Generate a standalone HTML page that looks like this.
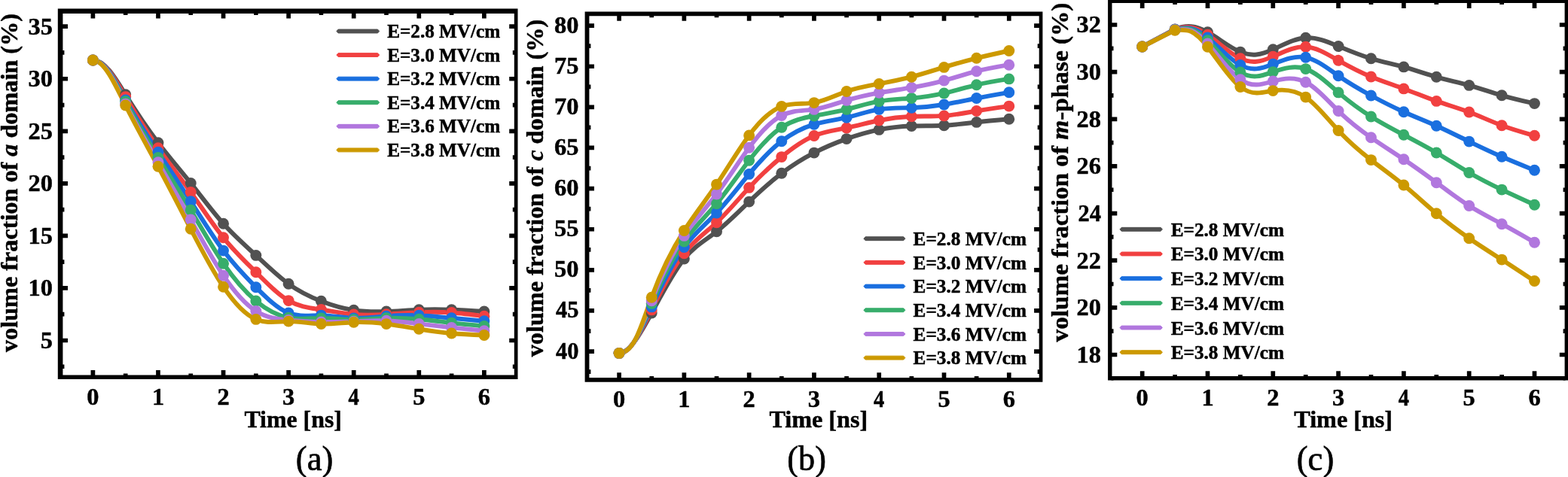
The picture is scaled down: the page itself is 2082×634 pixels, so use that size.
<!DOCTYPE html>
<html lang="en">
<head>
<meta charset="utf-8">
<title>Volume fraction versus time</title>
<style>
html,body{margin:0;padding:0;background:#fff;}
body{width:2082px;height:634px;overflow:hidden;}
svg{display:block;font-family:'Liberation Serif', 'Times New Roman', Times, serif;fill:#000;}
text{stroke:#000;stroke-width:0.5px;stroke-linejoin:round;}
</style>
</head>
<body>
<svg width="2082" height="634" viewBox="0 0 2082 634">
<rect width="2082" height="634" fill="#fff"/>
<g style="filter:blur(0.4px)">
<path d="M76.8 11.6H83.4V504.1H76.8ZM682.8 11.6H687.5V504.1H682.8ZM76.8 11.6H687.5V17.9H76.8ZM76.8 498.5H687.5V504.1H76.8ZM120.55 491.9H126.25V499.5H120.55ZM120.55 16.9H126.25V24.5H120.55ZM163.84 496.5H169.54V499.5H163.84ZM163.84 16.9H169.54V19.9H163.84ZM207.13 491.9H212.83V499.5H207.13ZM207.13 16.9H212.83V24.5H207.13ZM250.42 496.5H256.12V499.5H250.42ZM250.42 16.9H256.12V19.9H250.42ZM293.71 491.9H299.41V499.5H293.71ZM293.71 16.9H299.41V24.5H293.71ZM337 496.5H342.7V499.5H337ZM337 16.9H342.7V19.9H337ZM380.29 491.9H385.99V499.5H380.29ZM380.29 16.9H385.99V24.5H380.29ZM423.58 496.5H429.28V499.5H423.58ZM423.58 16.9H429.28V19.9H423.58ZM466.87 491.9H472.57V499.5H466.87ZM466.87 16.9H472.57V24.5H466.87ZM510.16 496.5H515.86V499.5H510.16ZM510.16 16.9H515.86V19.9H510.16ZM553.45 491.9H559.15V499.5H553.45ZM553.45 16.9H559.15V24.5H553.45ZM596.74 496.5H602.44V499.5H596.74ZM596.74 16.9H602.44V19.9H596.74ZM640.03 491.9H645.73V499.5H640.03ZM640.03 16.9H645.73V24.5H640.03ZM82.4 484.42H85.4V490.12H82.4ZM680.8 484.42H683.8V490.12H680.8ZM82.4 449.65H90V455.35H82.4ZM676.2 449.65H683.8V455.35H676.2ZM82.4 414.87H85.4V420.57H82.4ZM680.8 414.87H683.8V420.57H680.8ZM82.4 380.1H90V385.8H82.4ZM676.2 380.1H683.8V385.8H676.2ZM82.4 345.32H85.4V351.03H82.4ZM680.8 345.32H683.8V351.03H680.8ZM82.4 310.55H90V316.25H82.4ZM676.2 310.55H683.8V316.25H676.2ZM82.4 275.77H85.4V281.48H82.4ZM680.8 275.77H683.8V281.48H680.8ZM82.4 241H90V246.7H82.4ZM676.2 241H683.8V246.7H676.2ZM82.4 206.22H85.4V211.92H82.4ZM680.8 206.22H683.8V211.92H680.8ZM82.4 171.45H90V177.15H82.4ZM676.2 171.45H683.8V177.15H676.2ZM82.4 136.68H85.4V142.38H82.4ZM680.8 136.68H683.8V142.38H680.8ZM82.4 101.9H90V107.6H82.4ZM676.2 101.9H683.8V107.6H676.2ZM82.4 67.12H85.4V72.82H82.4ZM680.8 67.12H683.8V72.82H680.8ZM82.4 32.35H90V38.05H82.4ZM676.2 32.35H683.8V38.05H676.2Z" fill="#000"/>
<text x="123.4" y="538.2" font-size="32.4" font-weight="bold" text-anchor="middle">0</text>
<text x="209.98" y="538.2" font-size="32.4" font-weight="bold" text-anchor="middle">1</text>
<text x="296.56" y="538.2" font-size="32.4" font-weight="bold" text-anchor="middle">2</text>
<text x="383.14" y="538.2" font-size="32.4" font-weight="bold" text-anchor="middle">3</text>
<text x="469.72" y="538.2" font-size="32.4" font-weight="bold" text-anchor="middle" textLength="14.26" lengthAdjust="spacingAndGlyphs">4</text>
<text x="556.3" y="538.2" font-size="32.4" font-weight="bold" text-anchor="middle">5</text>
<text x="642.88" y="538.2" font-size="32.4" font-weight="bold" text-anchor="middle">6</text>
<text x="69.9" y="462.9" font-size="32.4" font-weight="bold" text-anchor="end">5</text>
<text x="69.9" y="393.35" font-size="32.4" font-weight="bold" text-anchor="end">10</text>
<text x="69.9" y="323.8" font-size="32.4" font-weight="bold" text-anchor="end">15</text>
<text x="69.9" y="254.25" font-size="32.4" font-weight="bold" text-anchor="end">20</text>
<text x="69.9" y="184.7" font-size="32.4" font-weight="bold" text-anchor="end">25</text>
<text x="69.9" y="115.15" font-size="32.4" font-weight="bold" text-anchor="end">30</text>
<text x="69.9" y="45.6" font-size="32.4" font-weight="bold" text-anchor="end">35</text>
<text x="389.2" y="568" font-size="32.5" font-weight="bold" text-anchor="middle" textLength="129.5" lengthAdjust="spacingAndGlyphs">Time [ns]</text>
<text transform="translate(23 243) rotate(-90)" font-size="32.5" font-weight="bold" text-anchor="middle" textLength="450" lengthAdjust="spacingAndGlyphs">volume fraction of <tspan font-style="italic">a</tspan> domain (%)</text>
<text x="417.6" y="624.5" font-size="47" font-weight="normal" text-anchor="middle" textLength="49.5" lengthAdjust="spacingAndGlyphs" style="stroke-width:0.7px">(a)</text>
<path d="M123.4 80C130.62 80 137.83 84.96 145.05 93.5C152.26 102.04 159.47 114.14 166.69 125.8C181.12 149.12 195.55 170.66 209.98 189.7C224.41 208.74 238.84 225.3 253.27 243.4C267.7 261.5 282.13 281.16 296.56 297.3C310.99 313.44 325.42 326.05 339.85 339.4C354.28 352.75 368.71 366.83 383.14 377.3C397.57 387.77 412 394.64 426.43 400.2C440.86 405.76 455.29 410.01 469.72 412.2C484.15 414.39 498.58 414.53 513.01 414C527.44 413.47 541.87 412.26 556.3 411.7C570.73 411.14 585.16 411.21 599.59 411.7C614.02 412.19 628.45 413.09 642.88 414" fill="none" stroke="#515151" stroke-width="5.9" stroke-linejoin="round" stroke-linecap="round"/>
<path d="M123.4 80C130.62 80 137.83 85.48 145.05 94.56C152.26 103.64 159.47 116.31 166.69 128.6C181.12 153.19 195.55 176.28 209.98 196.8C224.41 217.32 238.84 235.27 253.27 255.4C267.7 275.53 282.13 297.83 296.56 315.8C310.99 333.77 325.42 347.41 339.85 361.8C354.28 376.19 368.71 391.32 383.14 399.6C397.57 407.88 412 409.3 426.43 411.5C440.86 413.7 455.29 416.67 469.72 417.9C484.15 419.13 498.58 418.63 513.01 417.8C527.44 416.97 541.87 415.8 556.3 415.2C570.73 414.6 585.16 414.56 599.59 415.5C614.02 416.44 628.45 418.37 642.88 420.3" fill="none" stroke="#F14040" stroke-width="5.9" stroke-linejoin="round" stroke-linecap="round"/>
<path d="M123.4 80C130.62 80 137.83 85.67 145.05 95.62C152.26 105.57 159.47 119.8 166.69 132.9C181.12 159.1 195.55 180.77 209.98 202.3C224.41 223.83 238.84 245.2 253.27 267.7C267.7 290.2 282.13 313.82 296.56 333.1C310.99 352.38 325.42 367.31 339.85 381.8C354.28 396.29 368.71 410.34 383.14 416C397.57 421.66 412 418.93 426.43 419.1C440.86 419.27 455.29 422.35 469.72 422.9C484.15 423.45 498.58 421.48 513.01 420.3C527.44 419.12 541.87 418.73 556.3 419.3C570.73 419.87 585.16 421.39 599.59 422.8C614.02 424.21 628.45 425.5 642.88 426.8" fill="none" stroke="#1A6FDF" stroke-width="5.9" stroke-linejoin="round" stroke-linecap="round"/>
<path d="M123.4 80C130.62 80 137.83 86.37 145.05 96.68C152.26 106.99 159.47 121.26 166.69 134.8C181.12 161.88 195.55 186.07 209.98 209.4C224.41 232.73 238.84 255.22 253.27 279.3C267.7 303.38 282.13 329.06 296.56 350.2C310.99 371.34 325.42 387.94 339.85 400C354.28 412.06 368.71 419.57 383.14 422.3C397.57 425.03 412 422.99 426.43 422.9C440.86 422.81 455.29 424.68 469.72 424.8C484.15 424.92 498.58 423.28 513.01 422.8C527.44 422.32 541.87 423.01 556.3 424.3C570.73 425.59 585.16 427.47 599.59 429.1C614.02 430.73 628.45 432.12 642.88 433.5" fill="none" stroke="#37AD6B" stroke-width="5.9" stroke-linejoin="round" stroke-linecap="round"/>
<path d="M123.4 80C130.62 80 137.83 86.76 145.05 97.74C152.26 108.72 159.47 123.91 166.69 138.1C181.12 166.47 195.55 190.82 209.98 215.7C224.41 240.58 238.84 265.99 253.27 292C267.7 318.01 282.13 344.62 296.56 366.2C310.99 387.78 325.42 404.31 339.85 413.4C354.28 422.49 368.71 424.12 383.14 425.4C397.57 426.68 412 427.6 426.43 427.9C440.86 428.2 455.29 427.9 469.72 427.3C484.15 426.7 498.58 425.82 513.01 426.3C527.44 426.78 541.87 428.63 556.3 430.4C570.73 432.17 585.16 433.85 599.59 435.4C614.02 436.95 628.45 438.38 642.88 439.8" fill="none" stroke="#B177DE" stroke-width="5.9" stroke-linejoin="round" stroke-linecap="round"/>
<path d="M123.4 80C130.62 80 137.83 87.42 145.05 98.8C152.26 110.18 159.47 125.52 166.69 140C181.12 168.95 195.55 194.43 209.98 221.3C224.41 248.17 238.84 276.42 253.27 304.3C267.7 332.18 282.13 359.68 296.56 381.2C310.99 402.72 325.42 418.28 339.85 424.4C354.28 430.52 368.71 427.22 383.14 427.1C397.57 426.98 412 430.03 426.43 430.5C440.86 430.97 455.29 428.84 469.72 428.3C484.15 427.76 498.58 428.79 513.01 430.6C527.44 432.41 541.87 434.98 556.3 437.3C570.73 439.62 585.16 441.68 599.59 443C614.02 444.32 628.45 444.91 642.88 445.5" fill="none" stroke="#CC9900" stroke-width="5.9" stroke-linejoin="round" stroke-linecap="round"/>
<g fill="#515151"><circle cx="123.4" cy="80" r="7.45"/><circle cx="166.69" cy="125.8" r="7.45"/><circle cx="209.98" cy="189.7" r="7.45"/><circle cx="253.27" cy="243.4" r="7.45"/><circle cx="296.56" cy="297.3" r="7.45"/><circle cx="339.85" cy="339.4" r="7.45"/><circle cx="383.14" cy="377.3" r="7.45"/><circle cx="426.43" cy="400.2" r="7.45"/><circle cx="469.72" cy="412.2" r="7.45"/><circle cx="513.01" cy="414" r="7.45"/><circle cx="556.3" cy="411.7" r="7.45"/><circle cx="599.59" cy="411.7" r="7.45"/><circle cx="642.88" cy="414" r="7.45"/></g>
<g fill="#F14040"><circle cx="123.4" cy="80" r="7.45"/><circle cx="166.69" cy="128.6" r="7.45"/><circle cx="209.98" cy="196.8" r="7.45"/><circle cx="253.27" cy="255.4" r="7.45"/><circle cx="296.56" cy="315.8" r="7.45"/><circle cx="339.85" cy="361.8" r="7.45"/><circle cx="383.14" cy="399.6" r="7.45"/><circle cx="426.43" cy="411.5" r="7.45"/><circle cx="469.72" cy="417.9" r="7.45"/><circle cx="513.01" cy="417.8" r="7.45"/><circle cx="556.3" cy="415.2" r="7.45"/><circle cx="599.59" cy="415.5" r="7.45"/><circle cx="642.88" cy="420.3" r="7.45"/></g>
<g fill="#1A6FDF"><circle cx="123.4" cy="80" r="7.45"/><circle cx="166.69" cy="132.9" r="7.45"/><circle cx="209.98" cy="202.3" r="7.45"/><circle cx="253.27" cy="267.7" r="7.45"/><circle cx="296.56" cy="333.1" r="7.45"/><circle cx="339.85" cy="381.8" r="7.45"/><circle cx="383.14" cy="416" r="7.45"/><circle cx="426.43" cy="419.1" r="7.45"/><circle cx="469.72" cy="422.9" r="7.45"/><circle cx="513.01" cy="420.3" r="7.45"/><circle cx="556.3" cy="419.3" r="7.45"/><circle cx="599.59" cy="422.8" r="7.45"/><circle cx="642.88" cy="426.8" r="7.45"/></g>
<g fill="#37AD6B"><circle cx="123.4" cy="80" r="7.45"/><circle cx="166.69" cy="134.8" r="7.45"/><circle cx="209.98" cy="209.4" r="7.45"/><circle cx="253.27" cy="279.3" r="7.45"/><circle cx="296.56" cy="350.2" r="7.45"/><circle cx="339.85" cy="400" r="7.45"/><circle cx="383.14" cy="422.3" r="7.45"/><circle cx="426.43" cy="422.9" r="7.45"/><circle cx="469.72" cy="424.8" r="7.45"/><circle cx="513.01" cy="422.8" r="7.45"/><circle cx="556.3" cy="424.3" r="7.45"/><circle cx="599.59" cy="429.1" r="7.45"/><circle cx="642.88" cy="433.5" r="7.45"/></g>
<g fill="#B177DE"><circle cx="123.4" cy="80" r="7.45"/><circle cx="166.69" cy="138.1" r="7.45"/><circle cx="209.98" cy="215.7" r="7.45"/><circle cx="253.27" cy="292" r="7.45"/><circle cx="296.56" cy="366.2" r="7.45"/><circle cx="339.85" cy="413.4" r="7.45"/><circle cx="383.14" cy="425.4" r="7.45"/><circle cx="426.43" cy="427.9" r="7.45"/><circle cx="469.72" cy="427.3" r="7.45"/><circle cx="513.01" cy="426.3" r="7.45"/><circle cx="556.3" cy="430.4" r="7.45"/><circle cx="599.59" cy="435.4" r="7.45"/><circle cx="642.88" cy="439.8" r="7.45"/></g>
<g fill="#CC9900"><circle cx="123.4" cy="80" r="7.45"/><circle cx="166.69" cy="140" r="7.45"/><circle cx="209.98" cy="221.3" r="7.45"/><circle cx="253.27" cy="304.3" r="7.45"/><circle cx="296.56" cy="381.2" r="7.45"/><circle cx="339.85" cy="424.4" r="7.45"/><circle cx="383.14" cy="427.1" r="7.45"/><circle cx="426.43" cy="430.5" r="7.45"/><circle cx="469.72" cy="428.3" r="7.45"/><circle cx="513.01" cy="430.6" r="7.45"/><circle cx="556.3" cy="437.3" r="7.45"/><circle cx="599.59" cy="443" r="7.45"/><circle cx="642.88" cy="445.5" r="7.45"/></g>
<path d="M446.9 41.5L449.1 39.05H501.5L503.7 41.5L501.5 43.95H449.1Z" fill="#515151" stroke="#515151" stroke-width="1" stroke-linejoin="round"/>
<text x="514.2" y="50" font-size="24.3" font-weight="bold" text-anchor="start" textLength="150" lengthAdjust="spacingAndGlyphs">E=2.8 MV/cm</text>
<path d="M446.9 73.08L449.1 70.63H501.5L503.7 73.08L501.5 75.53H449.1Z" fill="#F14040" stroke="#F14040" stroke-width="1" stroke-linejoin="round"/>
<text x="514.2" y="81.58" font-size="24.3" font-weight="bold" text-anchor="start" textLength="150" lengthAdjust="spacingAndGlyphs">E=3.0 MV/cm</text>
<path d="M446.9 104.66L449.1 102.21H501.5L503.7 104.66L501.5 107.11H449.1Z" fill="#1A6FDF" stroke="#1A6FDF" stroke-width="1" stroke-linejoin="round"/>
<text x="514.2" y="113.16" font-size="24.3" font-weight="bold" text-anchor="start" textLength="150" lengthAdjust="spacingAndGlyphs">E=3.2 MV/cm</text>
<path d="M446.9 136.24L449.1 133.79H501.5L503.7 136.24L501.5 138.69H449.1Z" fill="#37AD6B" stroke="#37AD6B" stroke-width="1" stroke-linejoin="round"/>
<text x="514.2" y="144.74" font-size="24.3" font-weight="bold" text-anchor="start" textLength="150" lengthAdjust="spacingAndGlyphs">E=3.4 MV/cm</text>
<path d="M446.9 167.82L449.1 165.37H501.5L503.7 167.82L501.5 170.27H449.1Z" fill="#B177DE" stroke="#B177DE" stroke-width="1" stroke-linejoin="round"/>
<text x="514.2" y="176.32" font-size="24.3" font-weight="bold" text-anchor="start" textLength="150" lengthAdjust="spacingAndGlyphs">E=3.6 MV/cm</text>
<path d="M446.9 199.4L449.1 196.95H501.5L503.7 199.4L501.5 201.85H449.1Z" fill="#CC9900" stroke="#CC9900" stroke-width="1" stroke-linejoin="round"/>
<text x="514.2" y="207.9" font-size="24.3" font-weight="bold" text-anchor="start" textLength="150" lengthAdjust="spacingAndGlyphs">E=3.8 MV/cm</text>
</g>
<path d="M776.6 15.4H782.4V507.7H776.6ZM1379.7 15.4H1384.4V507.7H1379.7ZM776.6 15.4H1384.4V21.2H776.6ZM776.6 501.9H1384.4V507.7H776.6ZM819.25 495.3H824.95V502.9H819.25ZM819.25 20.2H824.95V27.8H819.25ZM862.39 499.9H868.09V502.9H862.39ZM862.39 20.2H868.09V23.2H862.39ZM905.53 495.3H911.23V502.9H905.53ZM905.53 20.2H911.23V27.8H905.53ZM948.67 499.9H954.37V502.9H948.67ZM948.67 20.2H954.37V23.2H948.67ZM991.81 495.3H997.51V502.9H991.81ZM991.81 20.2H997.51V27.8H991.81ZM1034.95 499.9H1040.65V502.9H1034.95ZM1034.95 20.2H1040.65V23.2H1034.95ZM1078.09 495.3H1083.79V502.9H1078.09ZM1078.09 20.2H1083.79V27.8H1078.09ZM1121.23 499.9H1126.93V502.9H1121.23ZM1121.23 20.2H1126.93V23.2H1121.23ZM1164.37 495.3H1170.07V502.9H1164.37ZM1164.37 20.2H1170.07V27.8H1164.37ZM1207.51 499.9H1213.21V502.9H1207.51ZM1207.51 20.2H1213.21V23.2H1207.51ZM1250.65 495.3H1256.35V502.9H1250.65ZM1250.65 20.2H1256.35V27.8H1250.65ZM1293.79 499.9H1299.49V502.9H1293.79ZM1293.79 20.2H1299.49V23.2H1293.79ZM1336.93 495.3H1342.63V502.9H1336.93ZM1336.93 20.2H1342.63V27.8H1336.93ZM781.4 491.31H784.4V497.01H781.4ZM1377.7 491.31H1380.7V497.01H1377.7ZM781.4 464.25H789V469.95H781.4ZM1373.1 464.25H1380.7V469.95H1373.1ZM781.4 437.19H784.4V442.89H781.4ZM1377.7 437.19H1380.7V442.89H1377.7ZM781.4 410.12H789V415.83H781.4ZM1373.1 410.12H1380.7V415.83H1373.1ZM781.4 383.06H784.4V388.76H781.4ZM1377.7 383.06H1380.7V388.76H1377.7ZM781.4 356H789V361.7H781.4ZM1373.1 356H1380.7V361.7H1373.1ZM781.4 328.94H784.4V334.64H781.4ZM1377.7 328.94H1380.7V334.64H1377.7ZM781.4 301.88H789V307.58H781.4ZM1373.1 301.88H1380.7V307.58H1373.1ZM781.4 274.81H784.4V280.51H781.4ZM1377.7 274.81H1380.7V280.51H1377.7ZM781.4 247.75H789V253.45H781.4ZM1373.1 247.75H1380.7V253.45H1373.1ZM781.4 220.69H784.4V226.39H781.4ZM1377.7 220.69H1380.7V226.39H1377.7ZM781.4 193.62H789V199.32H781.4ZM1373.1 193.62H1380.7V199.32H1373.1ZM781.4 166.56H784.4V172.26H781.4ZM1377.7 166.56H1380.7V172.26H1377.7ZM781.4 139.5H789V145.2H781.4ZM1373.1 139.5H1380.7V145.2H1373.1ZM781.4 112.44H784.4V118.14H781.4ZM1377.7 112.44H1380.7V118.14H1377.7ZM781.4 85.38H789V91.07H781.4ZM1373.1 85.38H1380.7V91.07H1373.1ZM781.4 58.31H784.4V64.01H781.4ZM1377.7 58.31H1380.7V64.01H1377.7ZM781.4 31.25H789V36.95H781.4ZM1373.1 31.25H1380.7V36.95H1373.1Z" fill="#000"/>
<text x="822.1" y="541" font-size="32.4" font-weight="bold" text-anchor="middle">0</text>
<text x="908.38" y="541" font-size="32.4" font-weight="bold" text-anchor="middle">1</text>
<text x="994.66" y="541" font-size="32.4" font-weight="bold" text-anchor="middle">2</text>
<text x="1080.94" y="541" font-size="32.4" font-weight="bold" text-anchor="middle">3</text>
<text x="1167.22" y="541" font-size="32.4" font-weight="bold" text-anchor="middle" textLength="14.26" lengthAdjust="spacingAndGlyphs">4</text>
<text x="1253.5" y="541" font-size="32.4" font-weight="bold" text-anchor="middle">5</text>
<text x="1339.78" y="541" font-size="32.4" font-weight="bold" text-anchor="middle">6</text>
<text x="768.5" y="476.6" font-size="32.4" font-weight="bold" text-anchor="end" textLength="30.46" lengthAdjust="spacingAndGlyphs">40</text>
<text x="768.5" y="422.48" font-size="32.4" font-weight="bold" text-anchor="end" textLength="30.46" lengthAdjust="spacingAndGlyphs">45</text>
<text x="768.5" y="368.35" font-size="32.4" font-weight="bold" text-anchor="end">50</text>
<text x="768.5" y="314.23" font-size="32.4" font-weight="bold" text-anchor="end">55</text>
<text x="768.5" y="260.1" font-size="32.4" font-weight="bold" text-anchor="end">60</text>
<text x="768.5" y="205.97" font-size="32.4" font-weight="bold" text-anchor="end">65</text>
<text x="768.5" y="151.85" font-size="32.4" font-weight="bold" text-anchor="end">70</text>
<text x="768.5" y="97.72" font-size="32.4" font-weight="bold" text-anchor="end">75</text>
<text x="768.5" y="43.6" font-size="32.4" font-weight="bold" text-anchor="end">80</text>
<text x="1086.8" y="568.1" font-size="32.5" font-weight="bold" text-anchor="middle" textLength="130.8" lengthAdjust="spacingAndGlyphs">Time [ns]</text>
<text transform="translate(720.6 250) rotate(-90)" font-size="32.5" font-weight="bold" text-anchor="middle" textLength="448.6" lengthAdjust="spacingAndGlyphs">volume fraction of <tspan font-style="italic">c</tspan> domain (%)</text>
<text x="1071.1" y="625.2" font-size="47" font-weight="normal" text-anchor="middle" textLength="51.5" lengthAdjust="spacingAndGlyphs" style="stroke-width:0.7px">(b)</text>
<path d="M822.1 469.4C829.29 469.4 836.48 462.4 843.67 452.4C850.86 442.4 858.05 429.4 865.24 416.1C879.62 389.51 894 361.75 908.38 344.1C922.76 326.45 937.14 318.92 951.52 307.8C965.9 296.68 980.28 281.96 994.66 268.1C1009.04 254.24 1023.42 241.23 1037.8 230.3C1052.18 219.37 1066.56 210.52 1080.94 203.1C1095.32 195.68 1109.7 189.7 1124.08 184.6C1138.46 179.5 1152.84 175.27 1167.22 172.4C1181.6 169.53 1195.98 168.02 1210.36 167.5C1224.74 166.98 1239.12 167.44 1253.5 166.7C1267.88 165.96 1282.26 164.02 1296.64 162.4C1311.02 160.78 1325.4 159.49 1339.78 158.2" fill="none" stroke="#515151" stroke-width="5.9" stroke-linejoin="round" stroke-linecap="round"/>
<path d="M822.1 469.4C829.29 469.4 836.48 462.89 843.67 452.16C850.86 441.43 858.05 426.47 865.24 411.9C879.62 382.76 894 355.2 908.38 336.8C922.76 318.4 937.14 309.18 951.52 295.8C965.9 282.42 980.28 264.89 994.66 249.4C1009.04 233.91 1023.42 220.46 1037.8 208.6C1052.18 196.74 1066.56 186.46 1080.94 180.5C1095.32 174.54 1109.7 172.9 1124.08 170C1138.46 167.1 1152.84 162.95 1167.22 160C1181.6 157.05 1195.98 155.32 1210.36 154.8C1224.74 154.28 1239.12 154.99 1253.5 153.9C1267.88 152.81 1282.26 149.93 1296.64 147.5C1311.02 145.07 1325.4 143.08 1339.78 141.1" fill="none" stroke="#F14040" stroke-width="5.9" stroke-linejoin="round" stroke-linecap="round"/>
<path d="M822.1 469.4C829.29 469.4 836.48 463.33 843.67 451.92C850.86 440.51 858.05 423.75 865.24 407.9C879.62 376.2 894 348.12 908.38 328.6C922.76 309.08 937.14 298.1 951.52 283C965.9 267.9 980.28 248.66 994.66 231.4C1009.04 214.14 1023.42 198.85 1037.8 187.7C1052.18 176.55 1066.56 169.56 1080.94 165.3C1095.32 161.04 1109.7 159.53 1124.08 156.2C1138.46 152.87 1152.84 147.71 1167.22 145.4C1181.6 143.09 1195.98 143.64 1210.36 143.2C1224.74 142.76 1239.12 141.35 1253.5 139C1267.88 136.65 1282.26 133.36 1296.64 130.5C1311.02 127.64 1325.4 125.22 1339.78 122.8" fill="none" stroke="#1A6FDF" stroke-width="5.9" stroke-linejoin="round" stroke-linecap="round"/>
<path d="M822.1 469.4C829.29 469.4 836.48 463.88 843.67 451.68C850.86 439.48 858.05 420.6 865.24 403.4C879.62 368.99 894 341.28 908.38 321C922.76 300.72 937.14 287.88 951.52 270.7C965.9 253.52 980.28 231.99 994.66 213.3C1009.04 194.61 1023.42 178.77 1037.8 169.3C1052.18 159.83 1066.56 156.73 1080.94 154C1095.32 151.27 1109.7 148.91 1124.08 145.4C1138.46 141.89 1152.84 137.24 1167.22 134.7C1181.6 132.16 1195.98 131.75 1210.36 130.5C1224.74 129.25 1239.12 127.17 1253.5 123.9C1267.88 120.63 1282.26 116.17 1296.64 112.8C1311.02 109.43 1325.4 107.17 1339.78 104.9" fill="none" stroke="#37AD6B" stroke-width="5.9" stroke-linejoin="round" stroke-linecap="round"/>
<path d="M822.1 469.4C829.29 469.4 836.48 464.27 843.67 451.44C850.86 438.61 858.05 418.07 865.24 399.7C879.62 362.96 894 334.88 908.38 313.4C922.76 291.92 937.14 277.03 951.52 258C965.9 238.97 980.28 215.82 994.66 196.3C1009.04 176.78 1023.42 160.91 1037.8 153.6C1052.18 146.29 1066.56 147.53 1080.94 145.4C1095.32 143.27 1109.7 137.75 1124.08 133.4C1138.46 129.05 1152.84 125.85 1167.22 123.3C1181.6 120.75 1195.98 118.84 1210.36 116.4C1224.74 113.96 1239.12 111.01 1253.5 107.1C1267.88 103.19 1282.26 98.34 1296.64 94.7C1311.02 91.06 1325.4 88.63 1339.78 86.2" fill="none" stroke="#B177DE" stroke-width="5.9" stroke-linejoin="round" stroke-linecap="round"/>
<path d="M822.1 469.4C829.29 469.4 836.48 464.84 843.67 451.2C850.86 437.56 858.05 414.85 865.24 395.2C879.62 355.91 894 328.89 908.38 306.5C922.76 284.11 937.14 266.34 951.52 245.1C965.9 223.86 980.28 199.16 994.66 179.9C1009.04 160.64 1023.42 146.82 1037.8 141.4C1052.18 135.98 1066.56 138.96 1080.94 136.6C1095.32 134.24 1109.7 126.55 1124.08 121.5C1138.46 116.45 1152.84 114.02 1167.22 111.4C1181.6 108.78 1195.98 105.95 1210.36 102.2C1224.74 98.45 1239.12 93.79 1253.5 89.4C1267.88 85.01 1282.26 80.9 1296.64 77.3C1311.02 73.7 1325.4 70.6 1339.78 67.5" fill="none" stroke="#CC9900" stroke-width="5.9" stroke-linejoin="round" stroke-linecap="round"/>
<g fill="#515151"><circle cx="822.1" cy="469.4" r="7.45"/><circle cx="865.24" cy="416.1" r="7.45"/><circle cx="908.38" cy="344.1" r="7.45"/><circle cx="951.52" cy="307.8" r="7.45"/><circle cx="994.66" cy="268.1" r="7.45"/><circle cx="1037.8" cy="230.3" r="7.45"/><circle cx="1080.94" cy="203.1" r="7.45"/><circle cx="1124.08" cy="184.6" r="7.45"/><circle cx="1167.22" cy="172.4" r="7.45"/><circle cx="1210.36" cy="167.5" r="7.45"/><circle cx="1253.5" cy="166.7" r="7.45"/><circle cx="1296.64" cy="162.4" r="7.45"/><circle cx="1339.78" cy="158.2" r="7.45"/></g>
<g fill="#F14040"><circle cx="822.1" cy="469.4" r="7.45"/><circle cx="865.24" cy="411.9" r="7.45"/><circle cx="908.38" cy="336.8" r="7.45"/><circle cx="951.52" cy="295.8" r="7.45"/><circle cx="994.66" cy="249.4" r="7.45"/><circle cx="1037.8" cy="208.6" r="7.45"/><circle cx="1080.94" cy="180.5" r="7.45"/><circle cx="1124.08" cy="170" r="7.45"/><circle cx="1167.22" cy="160" r="7.45"/><circle cx="1210.36" cy="154.8" r="7.45"/><circle cx="1253.5" cy="153.9" r="7.45"/><circle cx="1296.64" cy="147.5" r="7.45"/><circle cx="1339.78" cy="141.1" r="7.45"/></g>
<g fill="#1A6FDF"><circle cx="822.1" cy="469.4" r="7.45"/><circle cx="865.24" cy="407.9" r="7.45"/><circle cx="908.38" cy="328.6" r="7.45"/><circle cx="951.52" cy="283" r="7.45"/><circle cx="994.66" cy="231.4" r="7.45"/><circle cx="1037.8" cy="187.7" r="7.45"/><circle cx="1080.94" cy="165.3" r="7.45"/><circle cx="1124.08" cy="156.2" r="7.45"/><circle cx="1167.22" cy="145.4" r="7.45"/><circle cx="1210.36" cy="143.2" r="7.45"/><circle cx="1253.5" cy="139" r="7.45"/><circle cx="1296.64" cy="130.5" r="7.45"/><circle cx="1339.78" cy="122.8" r="7.45"/></g>
<g fill="#37AD6B"><circle cx="822.1" cy="469.4" r="7.45"/><circle cx="865.24" cy="403.4" r="7.45"/><circle cx="908.38" cy="321" r="7.45"/><circle cx="951.52" cy="270.7" r="7.45"/><circle cx="994.66" cy="213.3" r="7.45"/><circle cx="1037.8" cy="169.3" r="7.45"/><circle cx="1080.94" cy="154" r="7.45"/><circle cx="1124.08" cy="145.4" r="7.45"/><circle cx="1167.22" cy="134.7" r="7.45"/><circle cx="1210.36" cy="130.5" r="7.45"/><circle cx="1253.5" cy="123.9" r="7.45"/><circle cx="1296.64" cy="112.8" r="7.45"/><circle cx="1339.78" cy="104.9" r="7.45"/></g>
<g fill="#B177DE"><circle cx="822.1" cy="469.4" r="7.45"/><circle cx="865.24" cy="399.7" r="7.45"/><circle cx="908.38" cy="313.4" r="7.45"/><circle cx="951.52" cy="258" r="7.45"/><circle cx="994.66" cy="196.3" r="7.45"/><circle cx="1037.8" cy="153.6" r="7.45"/><circle cx="1080.94" cy="145.4" r="7.45"/><circle cx="1124.08" cy="133.4" r="7.45"/><circle cx="1167.22" cy="123.3" r="7.45"/><circle cx="1210.36" cy="116.4" r="7.45"/><circle cx="1253.5" cy="107.1" r="7.45"/><circle cx="1296.64" cy="94.7" r="7.45"/><circle cx="1339.78" cy="86.2" r="7.45"/></g>
<g fill="#CC9900"><circle cx="822.1" cy="469.4" r="7.45"/><circle cx="865.24" cy="395.2" r="7.45"/><circle cx="908.38" cy="306.5" r="7.45"/><circle cx="951.52" cy="245.1" r="7.45"/><circle cx="994.66" cy="179.9" r="7.45"/><circle cx="1037.8" cy="141.4" r="7.45"/><circle cx="1080.94" cy="136.6" r="7.45"/><circle cx="1124.08" cy="121.5" r="7.45"/><circle cx="1167.22" cy="111.4" r="7.45"/><circle cx="1210.36" cy="102.2" r="7.45"/><circle cx="1253.5" cy="89.4" r="7.45"/><circle cx="1296.64" cy="77.3" r="7.45"/><circle cx="1339.78" cy="67.5" r="7.45"/></g>
<path d="M1146.9 317.2L1149.1 314.75H1199.7L1201.9 317.2L1199.7 319.65H1149.1Z" fill="#515151" stroke="#515151" stroke-width="1" stroke-linejoin="round"/>
<text x="1212.6" y="326" font-size="24.3" font-weight="bold" text-anchor="start" textLength="150.3" lengthAdjust="spacingAndGlyphs">E=2.8 MV/cm</text>
<path d="M1146.9 348.88L1149.1 346.43H1199.7L1201.9 348.88L1199.7 351.33H1149.1Z" fill="#F14040" stroke="#F14040" stroke-width="1" stroke-linejoin="round"/>
<text x="1212.6" y="357.68" font-size="24.3" font-weight="bold" text-anchor="start" textLength="150.3" lengthAdjust="spacingAndGlyphs">E=3.0 MV/cm</text>
<path d="M1146.9 380.56L1149.1 378.11H1199.7L1201.9 380.56L1199.7 383.01H1149.1Z" fill="#1A6FDF" stroke="#1A6FDF" stroke-width="1" stroke-linejoin="round"/>
<text x="1212.6" y="389.36" font-size="24.3" font-weight="bold" text-anchor="start" textLength="150.3" lengthAdjust="spacingAndGlyphs">E=3.2 MV/cm</text>
<path d="M1146.9 412.24L1149.1 409.79H1199.7L1201.9 412.24L1199.7 414.69H1149.1Z" fill="#37AD6B" stroke="#37AD6B" stroke-width="1" stroke-linejoin="round"/>
<text x="1212.6" y="421.04" font-size="24.3" font-weight="bold" text-anchor="start" textLength="150.3" lengthAdjust="spacingAndGlyphs">E=3.4 MV/cm</text>
<path d="M1146.9 443.92L1149.1 441.47H1199.7L1201.9 443.92L1199.7 446.37H1149.1Z" fill="#B177DE" stroke="#B177DE" stroke-width="1" stroke-linejoin="round"/>
<text x="1212.6" y="452.72" font-size="24.3" font-weight="bold" text-anchor="start" textLength="150.3" lengthAdjust="spacingAndGlyphs">E=3.6 MV/cm</text>
<path d="M1146.9 475.6L1149.1 473.15H1199.7L1201.9 475.6L1199.7 478.05H1149.1Z" fill="#CC9900" stroke="#CC9900" stroke-width="1" stroke-linejoin="round"/>
<text x="1212.6" y="484.4" font-size="24.3" font-weight="bold" text-anchor="start" textLength="150.3" lengthAdjust="spacingAndGlyphs">E=3.8 MV/cm</text>
</g>
<path d="M1471.1 -2H1476.5V505.5H1471.1ZM2077.6 -2H2084V505.5H2077.6ZM1471.1 -2H2084V4.1H1471.1ZM1471.1 500H2084V505.5H1471.1ZM1513.85 493.2H1519.55V501H1513.85ZM1513.85 3.1H1519.55V10.9H1513.85ZM1557.25 498H1562.95V501H1557.25ZM1557.25 3.1H1562.95V6.1H1557.25ZM1600.65 493.2H1606.35V501H1600.65ZM1600.65 3.1H1606.35V10.9H1600.65ZM1644.05 498H1649.75V501H1644.05ZM1644.05 3.1H1649.75V6.1H1644.05ZM1687.45 493.2H1693.15V501H1687.45ZM1687.45 3.1H1693.15V10.9H1687.45ZM1730.85 498H1736.55V501H1730.85ZM1730.85 3.1H1736.55V6.1H1730.85ZM1774.25 493.2H1779.95V501H1774.25ZM1774.25 3.1H1779.95V10.9H1774.25ZM1817.65 498H1823.35V501H1817.65ZM1817.65 3.1H1823.35V6.1H1817.65ZM1861.05 493.2H1866.75V501H1861.05ZM1861.05 3.1H1866.75V10.9H1861.05ZM1904.45 498H1910.15V501H1904.45ZM1904.45 3.1H1910.15V6.1H1904.45ZM1947.85 493.2H1953.55V501H1947.85ZM1947.85 3.1H1953.55V10.9H1947.85ZM1991.25 498H1996.95V501H1991.25ZM1991.25 3.1H1996.95V6.1H1991.25ZM2034.65 493.2H2040.35V501H2034.65ZM2034.65 3.1H2040.35V10.9H2034.65ZM1475.5 499.95H1478.5V505.65H1475.5ZM2075.6 499.95H2078.6V505.65H2075.6ZM1475.5 468.63H1483.3V474.33H1475.5ZM2070.8 468.63H2078.6V474.33H2070.8ZM1475.5 437.31H1478.5V443.01H1475.5ZM2075.6 437.31H2078.6V443.01H2075.6ZM1475.5 405.99H1483.3V411.69H1475.5ZM2070.8 405.99H2078.6V411.69H2070.8ZM1475.5 374.67H1478.5V380.37H1475.5ZM2075.6 374.67H2078.6V380.37H2075.6ZM1475.5 343.35H1483.3V349.05H1475.5ZM2070.8 343.35H2078.6V349.05H2070.8ZM1475.5 312.03H1478.5V317.73H1475.5ZM2075.6 312.03H2078.6V317.73H2075.6ZM1475.5 280.71H1483.3V286.41H1475.5ZM2070.8 280.71H2078.6V286.41H2070.8ZM1475.5 249.39H1478.5V255.09H1475.5ZM2075.6 249.39H2078.6V255.09H2075.6ZM1475.5 218.07H1483.3V223.77H1475.5ZM2070.8 218.07H2078.6V223.77H2070.8ZM1475.5 186.75H1478.5V192.45H1475.5ZM2075.6 186.75H2078.6V192.45H2075.6ZM1475.5 155.43H1483.3V161.13H1475.5ZM2070.8 155.43H2078.6V161.13H2070.8ZM1475.5 124.11H1478.5V129.81H1475.5ZM2075.6 124.11H2078.6V129.81H2075.6ZM1475.5 92.79H1483.3V98.49H1475.5ZM2070.8 92.79H2078.6V98.49H2070.8ZM1475.5 61.47H1478.5V67.17H1475.5ZM2075.6 61.47H2078.6V67.17H2075.6ZM1475.5 30.15H1483.3V35.85H1475.5ZM2070.8 30.15H2078.6V35.85H2070.8Z" fill="#000"/>
<text x="1516.7" y="539.4" font-size="32.4" font-weight="bold" text-anchor="middle">0</text>
<text x="1603.5" y="539.4" font-size="32.4" font-weight="bold" text-anchor="middle">1</text>
<text x="1690.3" y="539.4" font-size="32.4" font-weight="bold" text-anchor="middle">2</text>
<text x="1777.1" y="539.4" font-size="32.4" font-weight="bold" text-anchor="middle">3</text>
<text x="1863.9" y="539.4" font-size="32.4" font-weight="bold" text-anchor="middle" textLength="14.26" lengthAdjust="spacingAndGlyphs">4</text>
<text x="1950.7" y="539.4" font-size="32.4" font-weight="bold" text-anchor="middle">5</text>
<text x="2037.5" y="539.4" font-size="32.4" font-weight="bold" text-anchor="middle">6</text>
<text x="1462" y="481.88" font-size="32.4" font-weight="bold" text-anchor="end">18</text>
<text x="1462" y="419.24" font-size="32.4" font-weight="bold" text-anchor="end">20</text>
<text x="1462" y="356.6" font-size="32.4" font-weight="bold" text-anchor="end">22</text>
<text x="1462" y="293.96" font-size="32.4" font-weight="bold" text-anchor="end" textLength="30.46" lengthAdjust="spacingAndGlyphs">24</text>
<text x="1462" y="231.32" font-size="32.4" font-weight="bold" text-anchor="end">26</text>
<text x="1462" y="168.68" font-size="32.4" font-weight="bold" text-anchor="end">28</text>
<text x="1462" y="106.04" font-size="32.4" font-weight="bold" text-anchor="end">30</text>
<text x="1462" y="43.4" font-size="32.4" font-weight="bold" text-anchor="end">32</text>
<text x="1783.7" y="567.5" font-size="32.5" font-weight="bold" text-anchor="middle" textLength="130.8" lengthAdjust="spacingAndGlyphs">Time [ns]</text>
<text transform="translate(1418 229) rotate(-90)" font-size="32.5" font-weight="bold" text-anchor="middle" textLength="450.8" lengthAdjust="spacingAndGlyphs">volume fraction of <tspan font-style="italic">m</tspan>-phase (%)</text>
<text x="1746.5" y="624.8" font-size="47" font-weight="normal" text-anchor="middle" textLength="49.5" lengthAdjust="spacingAndGlyphs" style="stroke-width:0.7px">(c)</text>
<path d="M1516.7 62L1560.1 38.9C1567.33 36.01 1574.57 34.52 1581.8 35.2C1589.03 35.88 1596.27 38.71 1603.5 42.7C1617.97 50.68 1632.43 63.26 1646.9 69.1C1654.13 72.02 1661.37 73.26 1668.6 72.48C1675.83 71.7 1683.07 68.91 1690.3 65.7C1704.77 59.27 1719.23 51.16 1733.7 50.2C1748.17 49.24 1762.63 55.44 1777.1 61.5C1791.57 67.56 1806.03 73.47 1820.5 77.8C1834.97 82.13 1849.43 84.89 1863.9 88.9C1878.37 92.91 1892.83 98.19 1907.3 102.3C1921.77 106.41 1936.23 109.36 1950.7 113.4C1965.17 117.44 1979.63 122.58 1994.1 126.8C2008.57 131.02 2023.03 134.31 2037.5 137.6" fill="none" stroke="#515151" stroke-width="5.9" stroke-linejoin="round" stroke-linecap="round"/>
<path d="M1516.7 62L1560.1 39.1C1567.33 36.71 1574.57 35.29 1581.8 36.43C1589.03 37.57 1596.27 41.27 1603.5 46.2C1617.97 56.07 1632.43 70.9 1646.9 77.7C1654.13 81.1 1661.37 82.5 1668.6 81.78C1675.83 81.06 1683.07 78.23 1690.3 75.1C1704.77 68.84 1719.23 61.4 1733.7 62.2C1748.17 63 1762.63 72.05 1777.1 80.3C1791.57 88.55 1806.03 95.99 1820.5 102C1834.97 108.01 1849.43 112.57 1863.9 117.9C1878.37 123.23 1892.83 129.32 1907.3 134.4C1921.77 139.48 1936.23 143.56 1950.7 149C1965.17 154.44 1979.63 161.26 1994.1 166.7C2008.57 172.14 2023.03 176.22 2037.5 180.3" fill="none" stroke="#F14040" stroke-width="5.9" stroke-linejoin="round" stroke-linecap="round"/>
<path d="M1516.7 62L1560.1 39.3C1567.33 37.42 1574.57 36.1 1581.8 37.77C1589.03 39.44 1596.27 44.08 1603.5 50C1617.97 61.84 1632.43 78.76 1646.9 86.5C1654.13 90.37 1661.37 91.94 1668.6 91.35C1675.83 90.77 1683.07 88.03 1690.3 85.2C1704.77 79.54 1719.23 73.51 1733.7 76.3C1748.17 79.09 1762.63 90.69 1777.1 100.7C1791.57 110.71 1806.03 119.12 1820.5 127C1834.97 134.88 1849.43 142.24 1863.9 148.7C1878.37 155.16 1892.83 160.74 1907.3 167.2C1921.77 173.66 1936.23 181.02 1950.7 188.1C1965.17 195.18 1979.63 201.98 1994.1 208.3C2008.57 214.62 2023.03 220.46 2037.5 226.3" fill="none" stroke="#1A6FDF" stroke-width="5.9" stroke-linejoin="round" stroke-linecap="round"/>
<path d="M1516.7 62L1560.1 39.5C1567.33 38.05 1574.57 36.91 1581.8 39.11C1589.03 41.3 1596.27 46.84 1603.5 53.8C1617.97 67.71 1632.43 87.3 1646.9 96C1654.13 100.35 1661.37 101.98 1668.6 101.42C1675.83 100.86 1683.07 98.1 1690.3 95.6C1704.77 90.59 1719.23 86.6 1733.7 91.6C1748.17 96.6 1762.63 110.58 1777.1 122.9C1791.57 135.22 1806.03 145.87 1820.5 155C1834.97 164.13 1849.43 171.72 1863.9 179.3C1878.37 186.88 1892.83 194.45 1907.3 203C1921.77 211.55 1936.23 221.1 1950.7 229.5C1965.17 237.9 1979.63 245.17 1994.1 252.1C2008.57 259.03 2023.03 265.61 2037.5 272.2" fill="none" stroke="#37AD6B" stroke-width="5.9" stroke-linejoin="round" stroke-linecap="round"/>
<path d="M1516.7 62L1560.1 39.8C1567.33 38.93 1574.57 37.81 1581.8 40.55C1589.03 43.29 1596.27 49.88 1603.5 57.9C1617.97 73.95 1632.43 95.72 1646.9 105.7C1654.13 110.69 1661.37 112.73 1668.6 112.55C1675.83 112.37 1683.07 109.97 1690.3 108C1704.77 104.06 1719.23 101.85 1733.7 109.2C1748.17 116.55 1762.63 133.47 1777.1 147.5C1791.57 161.53 1806.03 172.67 1820.5 182.8C1834.97 192.93 1849.43 202.03 1863.9 211.8C1878.37 221.57 1892.83 232 1907.3 242.7C1921.77 253.4 1936.23 264.38 1950.7 273.5C1965.17 282.62 1979.63 289.89 1994.1 297.7C2008.57 305.51 2023.03 313.85 2037.5 322.2" fill="none" stroke="#B177DE" stroke-width="5.9" stroke-linejoin="round" stroke-linecap="round"/>
<path d="M1516.7 62L1560.1 40.2C1567.33 39.84 1574.57 38.77 1581.8 42.1C1589.03 45.43 1596.27 53.17 1603.5 62.3C1617.97 80.57 1632.43 104.43 1646.9 115.5C1654.13 121.03 1661.37 123.37 1668.6 123.55C1675.83 123.74 1683.07 121.76 1690.3 120.6C1704.77 118.27 1719.23 119.19 1733.7 129.1C1748.17 139.01 1762.63 157.91 1777.1 173.5C1791.57 189.09 1806.03 201.36 1820.5 212.6C1834.97 223.84 1849.43 234.06 1863.9 246C1878.37 257.94 1892.83 271.59 1907.3 283.8C1921.77 296.01 1936.23 306.76 1950.7 316.7C1965.17 326.64 1979.63 335.77 1994.1 345.1C2008.57 354.43 2023.03 363.97 2037.5 373.5" fill="none" stroke="#CC9900" stroke-width="5.9" stroke-linejoin="round" stroke-linecap="round"/>
<g fill="#515151"><circle cx="1516.7" cy="62" r="7.45"/><circle cx="1560.1" cy="38.9" r="7.45"/><circle cx="1603.5" cy="42.7" r="7.45"/><circle cx="1646.9" cy="69.1" r="7.45"/><circle cx="1690.3" cy="65.7" r="7.45"/><circle cx="1733.7" cy="50.2" r="7.45"/><circle cx="1777.1" cy="61.5" r="7.45"/><circle cx="1820.5" cy="77.8" r="7.45"/><circle cx="1863.9" cy="88.9" r="7.45"/><circle cx="1907.3" cy="102.3" r="7.45"/><circle cx="1950.7" cy="113.4" r="7.45"/><circle cx="1994.1" cy="126.8" r="7.45"/><circle cx="2037.5" cy="137.6" r="7.45"/></g>
<g fill="#F14040"><circle cx="1516.7" cy="62" r="7.45"/><circle cx="1560.1" cy="39.1" r="7.45"/><circle cx="1603.5" cy="46.2" r="7.45"/><circle cx="1646.9" cy="77.7" r="7.45"/><circle cx="1690.3" cy="75.1" r="7.45"/><circle cx="1733.7" cy="62.2" r="7.45"/><circle cx="1777.1" cy="80.3" r="7.45"/><circle cx="1820.5" cy="102" r="7.45"/><circle cx="1863.9" cy="117.9" r="7.45"/><circle cx="1907.3" cy="134.4" r="7.45"/><circle cx="1950.7" cy="149" r="7.45"/><circle cx="1994.1" cy="166.7" r="7.45"/><circle cx="2037.5" cy="180.3" r="7.45"/></g>
<g fill="#1A6FDF"><circle cx="1516.7" cy="62" r="7.45"/><circle cx="1560.1" cy="39.3" r="7.45"/><circle cx="1603.5" cy="50" r="7.45"/><circle cx="1646.9" cy="86.5" r="7.45"/><circle cx="1690.3" cy="85.2" r="7.45"/><circle cx="1733.7" cy="76.3" r="7.45"/><circle cx="1777.1" cy="100.7" r="7.45"/><circle cx="1820.5" cy="127" r="7.45"/><circle cx="1863.9" cy="148.7" r="7.45"/><circle cx="1907.3" cy="167.2" r="7.45"/><circle cx="1950.7" cy="188.1" r="7.45"/><circle cx="1994.1" cy="208.3" r="7.45"/><circle cx="2037.5" cy="226.3" r="7.45"/></g>
<g fill="#37AD6B"><circle cx="1516.7" cy="62" r="7.45"/><circle cx="1560.1" cy="39.5" r="7.45"/><circle cx="1603.5" cy="53.8" r="7.45"/><circle cx="1646.9" cy="96" r="7.45"/><circle cx="1690.3" cy="95.6" r="7.45"/><circle cx="1733.7" cy="91.6" r="7.45"/><circle cx="1777.1" cy="122.9" r="7.45"/><circle cx="1820.5" cy="155" r="7.45"/><circle cx="1863.9" cy="179.3" r="7.45"/><circle cx="1907.3" cy="203" r="7.45"/><circle cx="1950.7" cy="229.5" r="7.45"/><circle cx="1994.1" cy="252.1" r="7.45"/><circle cx="2037.5" cy="272.2" r="7.45"/></g>
<g fill="#B177DE"><circle cx="1516.7" cy="62" r="7.45"/><circle cx="1560.1" cy="39.8" r="7.45"/><circle cx="1603.5" cy="57.9" r="7.45"/><circle cx="1646.9" cy="105.7" r="7.45"/><circle cx="1690.3" cy="108" r="7.45"/><circle cx="1733.7" cy="109.2" r="7.45"/><circle cx="1777.1" cy="147.5" r="7.45"/><circle cx="1820.5" cy="182.8" r="7.45"/><circle cx="1863.9" cy="211.8" r="7.45"/><circle cx="1907.3" cy="242.7" r="7.45"/><circle cx="1950.7" cy="273.5" r="7.45"/><circle cx="1994.1" cy="297.7" r="7.45"/><circle cx="2037.5" cy="322.2" r="7.45"/></g>
<g fill="#CC9900"><circle cx="1516.7" cy="62" r="7.45"/><circle cx="1560.1" cy="40.2" r="7.45"/><circle cx="1603.5" cy="62.3" r="7.45"/><circle cx="1646.9" cy="115.5" r="7.45"/><circle cx="1690.3" cy="120.6" r="7.45"/><circle cx="1733.7" cy="129.1" r="7.45"/><circle cx="1777.1" cy="173.5" r="7.45"/><circle cx="1820.5" cy="212.6" r="7.45"/><circle cx="1863.9" cy="246" r="7.45"/><circle cx="1907.3" cy="283.8" r="7.45"/><circle cx="1950.7" cy="316.7" r="7.45"/><circle cx="1994.1" cy="345.1" r="7.45"/><circle cx="2037.5" cy="373.5" r="7.45"/></g>
<path d="M1487 304.8L1489.2 302.35H1541.2L1543.4 304.8L1541.2 307.25H1489.2Z" fill="#515151" stroke="#515151" stroke-width="1" stroke-linejoin="round"/>
<text x="1554.7" y="313.8" font-size="24.3" font-weight="bold" text-anchor="start" textLength="150.4" lengthAdjust="spacingAndGlyphs">E=2.8 MV/cm</text>
<path d="M1487 337.48L1489.2 335.03H1541.2L1543.4 337.48L1541.2 339.93H1489.2Z" fill="#F14040" stroke="#F14040" stroke-width="1" stroke-linejoin="round"/>
<text x="1554.7" y="346.48" font-size="24.3" font-weight="bold" text-anchor="start" textLength="150.4" lengthAdjust="spacingAndGlyphs">E=3.0 MV/cm</text>
<path d="M1487 370.16L1489.2 367.71H1541.2L1543.4 370.16L1541.2 372.61H1489.2Z" fill="#1A6FDF" stroke="#1A6FDF" stroke-width="1" stroke-linejoin="round"/>
<text x="1554.7" y="379.16" font-size="24.3" font-weight="bold" text-anchor="start" textLength="150.4" lengthAdjust="spacingAndGlyphs">E=3.2 MV/cm</text>
<path d="M1487 402.84L1489.2 400.39H1541.2L1543.4 402.84L1541.2 405.29H1489.2Z" fill="#37AD6B" stroke="#37AD6B" stroke-width="1" stroke-linejoin="round"/>
<text x="1554.7" y="411.84" font-size="24.3" font-weight="bold" text-anchor="start" textLength="150.4" lengthAdjust="spacingAndGlyphs">E=3.4 MV/cm</text>
<path d="M1487 435.52L1489.2 433.07H1541.2L1543.4 435.52L1541.2 437.97H1489.2Z" fill="#B177DE" stroke="#B177DE" stroke-width="1" stroke-linejoin="round"/>
<text x="1554.7" y="444.52" font-size="24.3" font-weight="bold" text-anchor="start" textLength="150.4" lengthAdjust="spacingAndGlyphs">E=3.6 MV/cm</text>
<path d="M1487 468.2L1489.2 465.75H1541.2L1543.4 468.2L1541.2 470.65H1489.2Z" fill="#CC9900" stroke="#CC9900" stroke-width="1" stroke-linejoin="round"/>
<text x="1554.7" y="477.2" font-size="24.3" font-weight="bold" text-anchor="start" textLength="150.4" lengthAdjust="spacingAndGlyphs">E=3.8 MV/cm</text>
</g>
</g>
</svg>
</body>
</html>
